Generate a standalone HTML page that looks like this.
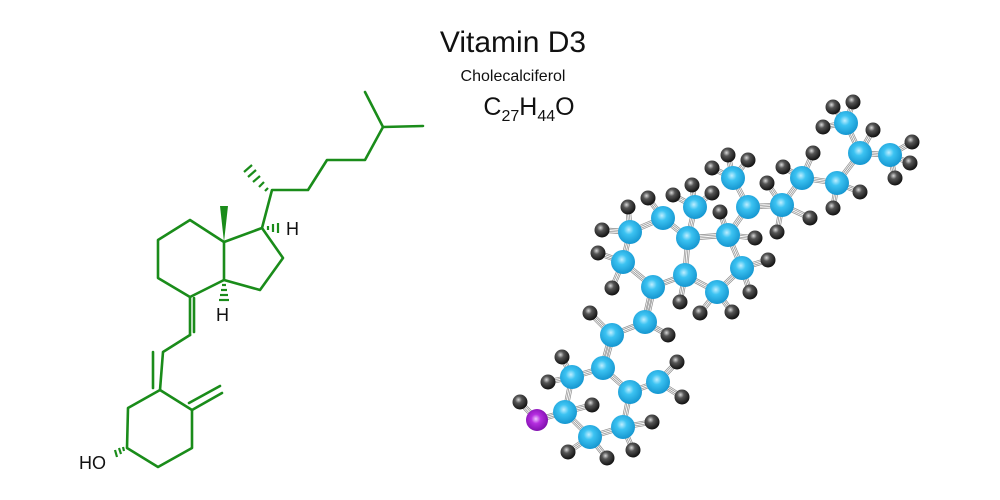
<!DOCTYPE html>
<html><head><meta charset="utf-8"><style>
html,body{margin:0;padding:0;background:#fff;}
body{width:1000px;height:500px;overflow:hidden;position:relative;font-family:"Liberation Sans",sans-serif;}
.t{position:absolute;left:0;width:1026px;text-align:center;color:#111;}
</style></head><body>
<div class="t" style="top:26px;font-size:30px;">Vitamin D3</div>
<div class="t" style="top:68px;font-size:16px;">Cholecalciferol</div>
<div class="t" style="top:93px;font-size:25px;left:16px;">C<sub style="font-size:16px;vertical-align:-6px">27</sub>H<sub style="font-size:16px;vertical-align:-6px">44</sub>O</div>
<svg id="s" width="1000" height="500" style="position:absolute;left:0;top:0">
<defs>
<radialGradient id="gc" cx="0.45" cy="0.4" r="0.6"><stop offset="0" stop-color="#bfeeff"/><stop offset="0.35" stop-color="#3cc3f2"/><stop offset="1" stop-color="#1596d0"/></radialGradient>
<radialGradient id="gh" cx="0.4" cy="0.35" r="0.65"><stop offset="0" stop-color="#d8d8d8"/><stop offset="0.35" stop-color="#555"/><stop offset="1" stop-color="#111"/></radialGradient>
<radialGradient id="go" cx="0.45" cy="0.45" r="0.6"><stop offset="0" stop-color="#f0c8ff"/><stop offset="0.35" stop-color="#b52ee0"/><stop offset="1" stop-color="#7a0ca8"/></radialGradient>
</defs>
<g stroke="#1a8c1a" stroke-width="2.6" fill="none" stroke-linecap="round" stroke-linejoin="round">
<polyline points="365,92 383,127 423,126"/>
<polyline points="383,127 365,160 327,160 308,190 272,190 262,228"/>
<polygon points="262,228 224,242 224,280 260,290 283,258"/>
<polyline points="224,242 190,220 158,240 158,278 190,297 224,280"/>
<line x1="190" y1="297" x2="190" y2="335"/>
<line x1="194" y1="298" x2="194" y2="332"/>
<polyline points="190,335 163,352 160,390"/>
<line x1="153" y1="352" x2="153" y2="388"/>
<polyline points="160,390 192,410 192,448 158,467 127,448 128,408 160,390"/>
<line x1="192" y1="410" x2="222" y2="393"/>
<line x1="189" y1="403" x2="220" y2="386"/>
</g>
<polygon points="224,242 220,206 228,206" fill="#1a8c1a"/>
<g stroke="#1a8c1a" stroke-width="2.2">
<line x1="268" y1="188" x2="265" y2="191"/><line x1="264" y1="182" x2="259" y2="187"/><line x1="260" y1="176" x2="253" y2="182"/><line x1="256" y1="170" x2="248" y2="177"/><line x1="252" y1="165" x2="244" y2="172"/>
<line x1="268" y1="226" x2="268" y2="230"/><line x1="273" y1="224" x2="273" y2="232"/><line x1="278" y1="223" x2="278" y2="233"/>
<line x1="222" y1="285" x2="226" y2="285"/><line x1="221" y1="290" x2="227" y2="290"/><line x1="220" y1="295" x2="228" y2="295"/><line x1="219" y1="300" x2="229" y2="300"/>
<line x1="123" y1="447" x2="124" y2="451"/><line x1="119" y1="448" x2="121" y2="454"/><line x1="115" y1="450" x2="117" y2="457"/>
</g>
<g font-family="Liberation Sans, sans-serif" font-size="18" fill="#111">
<text x="286" y="235">H</text>
<text x="216" y="321">H</text>
<text x="79" y="469">HO</text>
</g>
<g id="bonds"></g><g id="atoms"></g>
</svg>
<script>
var C=[[846,123],[860,153],[890,155],[837,183],[802,178],[782,205],[748,207],[733,178],[728,235],[695,207],[688,238],[663,218],[630,232],[623,262],[653,287],[685,275],[717,292],[742,268],[645,322],[612,335],[603,368],[630,392],[658,382],[572,377],[565,412],[590,437],[623,427],[537,420]];
var B=[[0,1],[1,2],[1,3],[3,4],[4,5],[5,6],[6,7],[6,8],[8,10],[8,17],[10,9],[10,11],[10,15],[11,12],[12,13],[13,14],[14,15],[15,16],[16,17],[14,18,2],[18,19],[19,20,2],[20,21],[21,22],[20,23],[23,24],[24,25],[25,26],[26,21],[24,27]];
var H=[[833,107],[853,102],[823,127],[873,130],[912,142],[910,163],[895,178],[860,192],[833,208],[813,153],[783,167],[810,218],[777,232],[767,183],[748,160],[728,155],[712,168],[712,193],[692,185],[720,212],[673,195],[648,198],[628,207],[602,230],[598,253],[612,288],[755,238],[768,260],[750,292],[680,302],[700,313],[732,312],[590,313],[668,335],[562,357],[548,382],[677,362],[682,397],[520,402],[592,405],[652,422],[633,450],[607,458],[568,452]];
var ns="http://www.w3.org/2000/svg",bg=document.getElementById("bonds"),ag=document.getElementById("atoms");
function ln(a,b,off,w,col){var dx=b[0]-a[0],dy=b[1]-a[1],L=Math.hypot(dx,dy),nx=-dy/L*off,ny=dx/L*off;var l=document.createElementNS(ns,"line");l.setAttribute("x1",a[0]+nx);l.setAttribute("y1",a[1]+ny);l.setAttribute("x2",b[0]+nx);l.setAttribute("y2",b[1]+ny);l.setAttribute("stroke",col);l.setAttribute("stroke-width",w);bg.appendChild(l);}
function bond(a,b,n){var offs=n==2?[-2.5,0,2.5]:[-1.6,1.6];offs.forEach(function(o){ln(a,b,o,2.2,"#8a8a8a");ln(a,b,o,0.9,"#f2f2f2");});}
B.forEach(function(b){bond(C[b[0]],C[b[1]],b[2]||1);});
H.forEach(function(h){var bi=0,bd=1e9;C.forEach(function(c,i){var d=Math.hypot(c[0]-h[0],c[1]-h[1]);if(d<bd){bd=d;bi=i;}});bond(h,C[bi],1);});
function ball(p,r,f){var c=document.createElementNS(ns,"circle");c.setAttribute("cx",p[0]);c.setAttribute("cy",p[1]);c.setAttribute("r",r);c.setAttribute("fill",f);ag.appendChild(c);}
H.forEach(function(h){ball(h,7.5,"url(#gh)");});
C.forEach(function(c,i){ball(c,i==27?11:12,i==27?"url(#go)":"url(#gc)");});
</script>
</body></html>
